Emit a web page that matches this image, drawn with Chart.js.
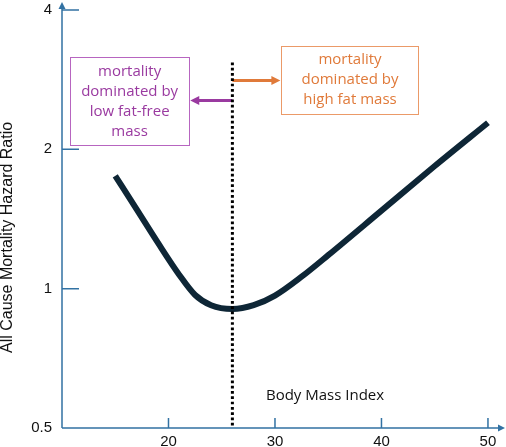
<!DOCTYPE html>
<html>
<head>
<meta charset="utf-8">
<script src="https://cdn.jsdelivr.net/npm/chart.js@4.4.1/dist/chart.umd.min.js"></script>
<style>
html,body{margin:0;padding:0;background:#fff;}
#wrap{width:506px;height:447px;}
</style>
</head>
<body>
<div id="wrap"><canvas id="c" width="506" height="447"></canvas></div>
<script>
// ---- data ----
const bmi = [15, 17, 19, 21, 22.5, 24, 26, 28, 30, 32.5, 35, 40, 45, 50];
const hazardRatio = [1.753, 1.485, 1.257, 1.072, 0.969, 0.921, 0.904, 0.921, 0.966, 1.061, 1.181, 1.474, 1.84, 2.282];
const xTicks = [20, 30, 40, 50];
const yTicks = [0.5, 1, 2, 4];
const nadirBmi = 26;
const xTitle = 'Body Mass Index';
const yTitle = 'All Cause Mortality Hazard Ratio';
const leftNote = ['mortality', 'dominated by', 'low fat-free', 'mass'];
const rightNote = ['mortality', 'dominated by', 'high fat mass'];

const AXIS = '#3272a3';
const PURPLE = '#9a3aa0';
const ORANGE = '#e07a3a';

function arrowHead(ctx, x, y, dir, len, hw, color) {
  ctx.fillStyle = color;
  ctx.beginPath();
  if (dir === 'left') { ctx.moveTo(x, y); ctx.lineTo(x + len, y - hw); ctx.lineTo(x + len, y + hw); }
  else if (dir === 'right') { ctx.moveTo(x, y); ctx.lineTo(x - len, y - hw); ctx.lineTo(x - len, y + hw); }
  else if (dir === 'up') { ctx.moveTo(x, y); ctx.lineTo(x - hw, y + len); ctx.lineTo(x + hw, y + len); }
  ctx.closePath();
  ctx.fill();
}

const decor = {
  id: 'decor',
  beforeDatasetsDraw(chart) {
    const ctx = chart.ctx, xs = chart.scales.x, ys = chart.scales.y, a = chart.chartArea;
    ctx.save();
    // axes
    ctx.strokeStyle = AXIS; ctx.lineWidth = 1.5;
    ctx.beginPath();
    ctx.moveTo(a.left, a.bottom); ctx.lineTo(a.left, a.top + 5);
    ctx.moveTo(a.left, a.bottom); ctx.lineTo(a.right - 5, a.bottom);
    ctx.stroke();
    arrowHead(ctx, a.left, a.top, 'up', 7, 3.5, AXIS);
    arrowHead(ctx, a.right, a.bottom, 'right', 7, 3.5, AXIS);
    // inner tick marks
    ctx.beginPath();
    yTicks.forEach(v => {
      if (v === yTicks[0]) return;
      const py = ys.getPixelForValue(v);
      ctx.moveTo(a.left, py); ctx.lineTo(a.left + 17, py);
    });
    xTicks.forEach(v => {
      const px = xs.getPixelForValue(v);
      ctx.moveTo(px, a.bottom); ctx.lineTo(px, a.bottom - 10);
    });
    ctx.stroke();
    // y title
    ctx.fillStyle = '#111';
    ctx.font = '16px "Liberation Sans", Arial, sans-serif';
    ctx.textAlign = 'center'; ctx.textBaseline = 'middle';
    ctx.translate(8, ys.getPixelForValue(1.29));
    ctx.rotate(-Math.PI / 2);
    ctx.fillText(yTitle, 0, 0);
    ctx.restore();

    ctx.save();
    // x title inside plot
    ctx.fillStyle = '#111';
    ctx.font = '15px "Open Sans", sans-serif';
    ctx.textAlign = 'center'; ctx.textBaseline = 'middle';
    ctx.fillText(xTitle, xs.getPixelForValue(34.7), ys.getPixelForValue(0.587));

    const nx = xs.getPixelForValue(nadirBmi);
    // left box
    const lb = { l: xs.getPixelForValue(10.75), r: xs.getPixelForValue(21.95), t: ys.getPixelForValue(3.16), b: ys.getPixelForValue(2.04) };
    ctx.strokeStyle = '#b765c0'; ctx.lineWidth = 1;
    ctx.strokeRect(Math.round(lb.l) + 0.5, Math.round(lb.t) + 0.5, Math.round(lb.r - lb.l), Math.round(lb.b - lb.t));
    ctx.fillStyle = PURPLE;
    ctx.font = '15px "Open Sans", sans-serif';
    const lcx = (lb.l + lb.r) / 2;
    leftNote.forEach((s, i) => ctx.fillText(s, lcx, lb.t + 14 + i * 20));
    // right box
    const rb = { l: xs.getPixelForValue(30.6), r: xs.getPixelForValue(43.49), t: ys.getPixelForValue(3.35), b: ys.getPixelForValue(2.39) };
    ctx.strokeStyle = '#eb9a68';
    ctx.strokeRect(Math.round(rb.l) + 0.5, Math.round(rb.t) + 0.5, Math.round(rb.r - rb.l), Math.round(rb.b - rb.t));
    ctx.fillStyle = ORANGE;
    const rcx = (rb.l + rb.r) / 2;
    rightNote.forEach((s, i) => ctx.fillText(s, rcx, rb.t + 14 + i * 20));
    // arrows
    const pY = ys.getPixelForValue(2.55);
    ctx.strokeStyle = PURPLE; ctx.lineWidth = 3;
    ctx.beginPath(); ctx.moveTo(nx, pY); ctx.lineTo(lb.r + 8, pY); ctx.stroke();
    arrowHead(ctx, lb.r + 1, pY, 'left', 9, 4.5, PURPLE);
    const oY = ys.getPixelForValue(2.815);
    ctx.strokeStyle = ORANGE;
    ctx.beginPath(); ctx.moveTo(nx, oY); ctx.lineTo(rb.l - 8, oY); ctx.stroke();
    arrowHead(ctx, rb.l - 1, oY, 'right', 9, 4.5, ORANGE);
    ctx.restore();
  },
  afterDatasetsDraw(chart) {
    const ctx = chart.ctx, xs = chart.scales.x, ys = chart.scales.y, a = chart.chartArea;
    const nx = xs.getPixelForValue(nadirBmi);
    ctx.save();
    ctx.strokeStyle = '#000'; ctx.lineWidth = 3;
    ctx.setLineDash([2.7, 2.6]);
    ctx.beginPath(); ctx.moveTo(nx, ys.getPixelForValue(3.08)); ctx.lineTo(nx, a.bottom); ctx.stroke();
    ctx.restore();
  }
};

new Chart(document.getElementById('c'), {
  type: 'line',
  data: {
    datasets: [{
      data: bmi.map((x, i) => ({ x: x, y: hazardRatio[i] })),
      borderColor: '#0e2636',
      borderWidth: 6,
      pointRadius: 0,
      cubicInterpolationMode: 'monotone',
      borderCapStyle: 'butt',
      fill: false
    }]
  },
  options: {
    responsive: false,
    animation: false,
    layout: { padding: { top: 2, right: 1, left: 0, bottom: 0 } },
    plugins: { legend: { display: false }, tooltip: { enabled: false } },
    scales: {
      x: {
        type: 'linear', min: 10, max: 51.6,
        afterBuildTicks: s => { s.ticks = xTicks.map(v => ({ value: v })); },
        afterFit: s => { s.height = 19; s.paddingLeft = 0; s.paddingRight = 0; },
        grid: { display: false, drawTicks: false },
        border: { display: false },
        ticks: { padding: 5, color: '#111', font: { size: 15, family: '"Liberation Sans", Arial, sans-serif' }, maxRotation: 0, autoSkip: false, callback: v => String(v) }
      },
      y: {
        type: 'logarithmic', min: 0.5, max: 4.16,
        afterBuildTicks: s => { s.ticks = yTicks.map(v => ({ value: v })); },
        afterFit: s => { s.width = 62; s.paddingTop = 0; s.paddingBottom = 0; },
        grid: { display: false, drawTicks: false },
        border: { display: false },
        ticks: { padding: 10, color: '#111', font: { size: 15, family: '"Liberation Sans", Arial, sans-serif' }, autoSkip: false, callback: v => String(v) }
      }
    }
  },
  plugins: [decor]
});
</script>
</body>
</html>
